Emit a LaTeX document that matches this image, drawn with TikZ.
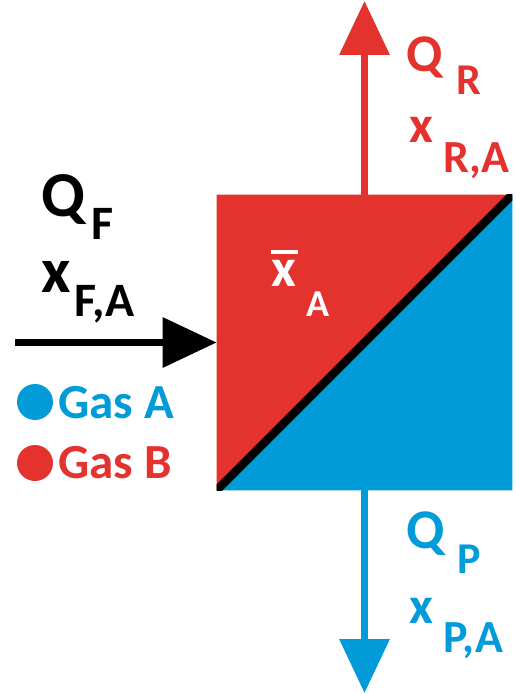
\documentclass[tikz,border=0pt]{standalone}
\usepackage{fontspec}
\setmainfont{Carlito}
\usetikzlibrary{arrows.meta}
\definecolor{flowred}{RGB}{228,50,46}
\definecolor{flowblue}{RGB}{0,155,216}
\newcommand{\meanx}{\makebox[0pt][l]{\raisebox{0.62em}{\rule{0.5em}{0.07em}}}x}

\begin{document}
\begin{tikzpicture}[%
x=0.5pt, y=-0.5pt,
big/.style={font=\bfseries\fontsize{#1}{#1}\selectfont, inner sep=0pt, anchor=base west},
big/.default=32,
sub/.style={font=\bfseries\fontsize{#1}{#1}\selectfont, inner sep=0pt, anchor=base west},
sub/.default=24,
flow/.style={line width=3.4pt, -{Triangle[length=27pt,width=24.5pt]}},
dot/.style={circle, inner sep=0pt, minimum size=18pt},
]
\useasboundingbox (0,0) rectangle (515,694);
%% membrane;
\node[minimum size=147.5pt, inner sep=0pt] (mem) at (364.5,342.5) {};
\fill[flowred] (mem.north west) -- (mem.north east) -- (mem.south west) -- cycle;
\fill[flowblue] (mem.north east) -- (mem.south east) -- (mem.south west) -- cycle;
\begin{scope}
\clip (mem.south west) rectangle (mem.north east);
\draw[line width=4.2pt] (mem.south west) -- (mem.north east);
\end{scope}
%% streams;
\coordinate (feed) at (15,342.5);
\coordinate (rtop) at (364.5,1);
\coordinate (pbot) at (364.5,693);
\draw[flow, black] (feed) -- (mem.west);
\draw[flow, flowred] (mem.north) -- (rtop);
\draw[flow, flowblue] (mem.south) -- (pbot);
%% feed labels;
\node[big] (qf) at (41,217) {Q};
\node[sub] (qfsub) at (91,240) {F};
\node[big] (xf) at (41,293) {x};
\node[sub] (xfsub) at (74,317) {F,A};
%% retentate labels;
\node[big=26.5, flowred] (qr) at (406,72) {Q};
\node[sub=22, flowred] (qrsub) at (456,95) {R};
\node[big=26, flowred] (xr) at (409,143) {x};
\node[sub=23, flowred] (xrsub) at (443,173) {R,A};
%% permeate labels;
\node[big=28, flowblue] (qp) at (406,548) {Q};
\node[sub=22, flowblue] (qpsub) at (457,573) {P};
\node[big=26, flowblue] (xp) at (409,623) {x};
\node[sub=23, flowblue] (xpsub) at (443,652) {P,A};
%% mean composition;
\node[big=27, white] (xa) at (271,287) {\meanx};
\node[sub=19, white] (xasub) at (306,317) {A};
%% legend;
\node[dot, fill=flowblue] (dota) at (35,402) {};
\node[sub=24.5, flowblue] (gasa) at (58,418) {Gas A};
\node[dot, fill=flowred] (dotb) at (35,463) {};
\node[sub=24.5, flowred] (gasb) at (58,478) {Gas B};
\end{tikzpicture}
\end{document}
